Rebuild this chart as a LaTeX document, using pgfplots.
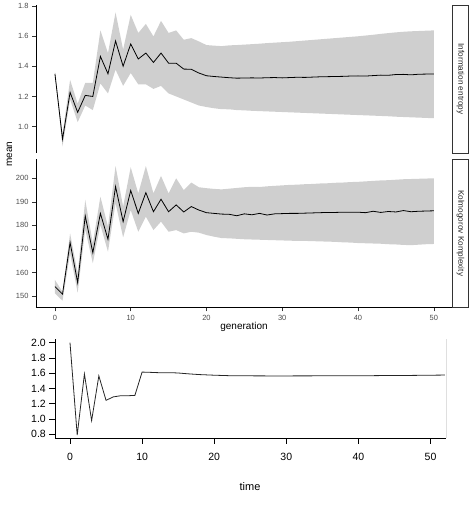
\documentclass[border=0pt]{standalone}
\usepackage{fontspec}
\setmainfont{Liberation Sans}
\usepackage{pgfplots}
\pgfplotsset{compat=1.18}
\usepackage{pgfplotstable}

% Information entropy: mean per generation
\pgfplotstableread{
g m
0 1.350
1 0.918
2 1.227
3 1.095
4 1.207
5 1.200
6 1.465
7 1.350
8 1.567
9 1.400
10 1.547
11 1.448
12 1.487
13 1.425
14 1.487
15 1.420
16 1.420
17 1.381
18 1.380
19 1.355
20 1.337
21 1.332
22 1.328
23 1.324
24 1.321
25 1.322
26 1.323
27 1.322
28 1.324
29 1.325
30 1.323
31 1.325
32 1.327
33 1.326
34 1.328
35 1.330
36 1.331
37 1.332
38 1.333
39 1.335
40 1.336
41 1.335
42 1.338
43 1.341
44 1.340
45 1.345
46 1.346
47 1.343
48 1.347
49 1.348
50 1.349
}\entropy

% Information entropy band: upper edge 0..50, then lower edge 50..0
\pgfplotstableread{
g b
0 1.360
1 0.950
2 1.310
3 1.152
4 1.290
5 1.290
6 1.637
7 1.487
8 1.756
9 1.510
10 1.740
11 1.620
12 1.680
13 1.597
14 1.700
15 1.620
16 1.637
17 1.575
18 1.586
19 1.564
20 1.540
21 1.536
22 1.533
23 1.538
24 1.540
25 1.543
26 1.546
27 1.549
28 1.553
29 1.556
30 1.559
31 1.562
32 1.566
33 1.570
34 1.574
35 1.578
36 1.582
37 1.586
38 1.590
39 1.594
40 1.598
41 1.603
42 1.608
43 1.614
44 1.619
45 1.624
46 1.628
47 1.631
48 1.633
49 1.635
50 1.637
50 1.056
49 1.058
48 1.060
47 1.062
46 1.064
45 1.066
44 1.069
43 1.071
42 1.073
41 1.075
40 1.077
39 1.079
38 1.081
37 1.083
36 1.085
35 1.087
34 1.089
33 1.091
32 1.093
31 1.095
30 1.097
29 1.099
28 1.101
27 1.103
26 1.105
25 1.108
24 1.110
23 1.115
22 1.116
21 1.122
20 1.130
19 1.140
18 1.160
17 1.180
16 1.200
15 1.220
14 1.270
13 1.250
12 1.280
11 1.280
10 1.355
9 1.270
8 1.377
7 1.220
6 1.286
5 1.110
4 1.140
3 1.030
2 1.180
1 0.870
0 1.340
}\entropyband

% Kolmogorov Komplexity: mean per generation
\pgfplotstableread{
g m
0 154.0
1 150.8
2 172.7
3 155.7
4 184.0
5 168.4
6 185.1
7 174.1
8 196.5
9 181.6
10 194.8
11 185.1
12 193.9
13 185.8
14 191.1
15 185.8
16 188.7
17 185.7
18 188.0
19 186.5
20 185.4
21 185.1
22 184.8
23 184.7
24 184.1
25 184.9
26 184.5
27 185.1
28 184.4
29 184.9
30 185.0
31 185.1
32 185.1
33 185.2
34 185.3
35 185.4
36 185.5
37 185.5
38 185.6
39 185.6
40 185.6
41 185.4
42 186.0
43 185.5
44 185.9
45 185.7
46 186.3
47 185.8
48 186.0
49 186.1
50 186.2
}\kolmo

% Kolmogorov Komplexity band: upper edge 0..50, then lower edge 50..0
\pgfplotstableread{
g b
0 156.8
1 151.8
2 176.6
3 159.6
4 190.8
5 172.4
6 192.2
7 179.5
8 205.2
9 188.0
10 204.7
11 193.6
12 205.2
13 193.6
14 201.0
15 193.6
16 200.0
17 195.0
18 198.2
19 196.2
20 195.8
21 195.5
22 195.3
23 195.6
24 195.9
25 196.2
26 196.4
27 196.3
28 196.6
29 196.8
30 197.0
31 197.2
32 197.3
33 197.5
34 197.6
35 197.8
36 197.9
37 198.1
38 198.2
39 198.4
40 198.5
41 198.7
42 198.9
43 199.1
44 199.2
45 199.4
46 199.6
47 199.7
48 199.8
49 199.9
50 200.0
50 172.1
49 172.0
48 171.8
47 171.6
46 171.7
45 171.9
44 172.0
43 172.2
42 172.3
41 172.4
40 172.5
39 172.7
38 172.8
37 173.0
36 173.1
35 173.2
34 173.3
33 173.4
32 173.4
31 173.5
30 173.6
29 173.7
28 173.8
27 173.9
26 174.0
25 174.1
24 174.3
23 174.5
22 174.6
21 175.2
20 175.9
19 176.9
18 177.3
17 176.6
16 178.0
15 177.3
14 181.6
13 178.0
12 183.7
11 177.3
10 186.5
9 174.9
8 189.4
7 168.8
6 180.2
5 163.9
4 178.3
3 151.4
2 168.1
1 148.0
0 151.1
}\kolmoband

\pgfplotstableread{
t v
0 2.000
1 0.790
2 1.590
3 0.980
4 1.565
5 1.245
6 1.290
7 1.305
8 1.305
9 1.310
10 1.615
11 1.612
12 1.608
13 1.605
14 1.607
15 1.603
16 1.595
17 1.588
18 1.582
19 1.578
20 1.574
21 1.571
22 1.568
23 1.567
24 1.566
25 1.566
26 1.565
27 1.565
28 1.564
29 1.564
30 1.564
31 1.565
32 1.565
33 1.565
34 1.566
35 1.566
36 1.566
37 1.567
38 1.567
39 1.567
40 1.568
41 1.568
42 1.568
43 1.569
44 1.569
45 1.570
46 1.570
47 1.571
48 1.572
49 1.573
50 1.574
51 1.575
52 1.576
}\timeser

\pgfplotsset{
  panel/.style={
    scale only axis, width=416.7pt, height=148pt,
    xmin=-2.5, xmax=52.5,
    axis lines*=left, tick align=outside, tick pos=left,
    major tick length=4pt,
    every tick/.style={black!80, line width=0.5pt},
    axis line style={black, line width=0.6pt},
    tick label style={font=\fontsize{7.5}{9}\selectfont, text=black!70},
    /pgf/number format/assume math mode=true,
    xtick={0,10,20,30,40,50},
  }
}

\begin{document}
\begin{tikzpicture}
\path[use as bounding box] (0pt,0pt) rectangle (474pt,508pt);

% Panel 1: Information entropy
\begin{axis}[panel, at={(36pt,355pt)}, anchor=south west,
  ymin=0.826, ymax=1.805,
  ytick={1.0,1.2,1.4,1.6,1.8},
  yticklabel style={/pgf/number format/.cd, fixed, fixed zerofill, precision=1},
  xtick=\empty, x axis line style={draw=none}]
  \addplot[fill=gray!38, draw=none] table[x=g, y=b] {\entropyband} -- cycle;
  \addplot[black, line width=0.8pt] table[x=g, y=m] {\entropy};
\end{axis}

% Panel 2: Kolmogorov Komplexity
\begin{axis}[panel, at={(36pt,200.7pt)}, anchor=south west, height=148.3pt,
  ymin=145.2, ymax=208.2,
  ytick={150,160,170,180,190,200}]
  \addplot[fill=gray!38, draw=none] table[x=g, y=b] {\kolmoband} -- cycle;
  \addplot[black, line width=0.8pt] table[x=g, y=m] {\kolmo};
\end{axis}

% strips
\draw[black!80, line width=0.5pt, fill=white] (452.7pt,355pt) rectangle (468.3pt,503pt);
\node[rotate=-90, font=\fontsize{8.2}{9}\selectfont, text=black!85] at (460.5pt,429pt) {Information entropy};
\draw[black!80, line width=0.5pt, fill=white] (452.7pt,200.7pt) rectangle (468.3pt,349pt);
\node[rotate=-90, font=\fontsize{8.2}{9}\selectfont, text=black!85] at (460.5pt,274.9pt) {Kolmogorov Komplexity};

\node[rotate=90, font=\fontsize{10}{12}\selectfont] at (9.5pt,354pt) {mean};
\node[font=\fontsize{10}{12}\selectfont] at (244pt,181pt) {generation};

% Bottom plot
\begin{axis}[at={(55pt,70pt)}, anchor=south west, scale only axis,
  width=391pt, height=99pt,
  xmin=-2.08, xmax=52.15, ymin=0.752, ymax=2.048,
  axis lines*=left, tick align=outside, tick pos=left,
  major tick length=5.7pt,
  every tick/.style={black, line width=0.6pt},
  axis line style={black, line width=0.6pt},
  tick label style={font=\fontsize{10.5}{12}\selectfont, text=black},
  /pgf/number format/assume math mode=true,
  xtick={0,10,20,30,40,50},
  ytick={0.8,1.0,1.2,1.4,1.6,1.8,2.0},
  yticklabel style={/pgf/number format/.cd, fixed, fixed zerofill, precision=1},
  xticklabel style={yshift=-6pt}]
  \addplot[black!85, line width=0.8pt] table[x=t, y=v] {\timeser};
  \draw[black, line width=0.6pt] (rel axis cs:1,0) -- (rel axis cs:1,1);
\end{axis}
\node[font=\fontsize{11}{13}\selectfont] at (250pt,21pt) {time};
\end{tikzpicture}
\end{document}
